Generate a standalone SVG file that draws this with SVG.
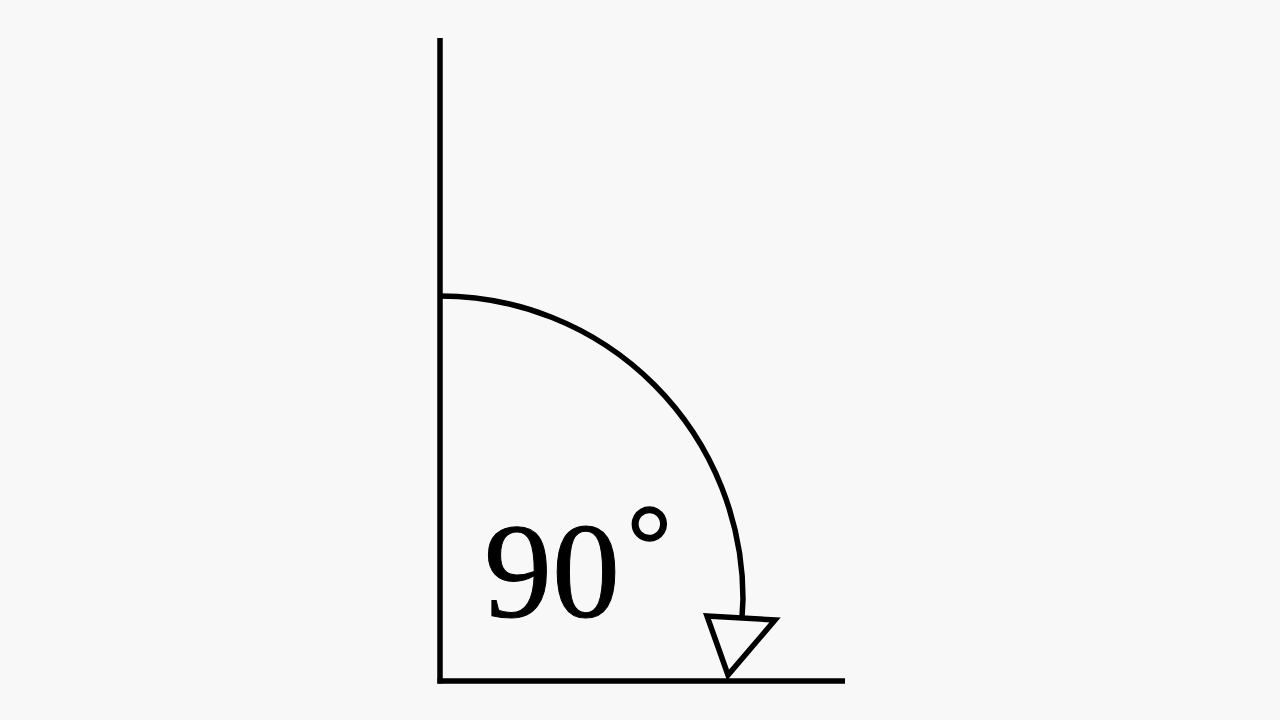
<svg xmlns="http://www.w3.org/2000/svg" width="1280" height="720" viewBox="0 0 1280 720">
<style>
.ln{fill:none;stroke:#000;stroke-width:5.5;stroke-linecap:butt}
.lbl{font-family:"Liberation Serif","Times New Roman",serif;font-size:136px;fill:#000}
</style>
<rect width="1280" height="720" fill="#f8f8f8"/>
<g id="axes">
<line class="ln" x1="440" y1="38" x2="440" y2="683.5"/>
<line class="ln" x1="437.5" y1="681" x2="845" y2="681"/>
</g>
<g id="connectors">
<path class="ln" d="M440,296 A303,303 0 0 1 743,599 L742,617"/>
<polygon class="ln" points="707,616 775,620 728,675" stroke-linejoin="miter"/>
</g>
<g id="label">
<text class="lbl" x="484" y="617" stroke="#000" stroke-width="1">90<tspan dx="7" dy="-35" font-size="112" stroke-width="1.5">°</tspan></text>
</g>
</svg>
